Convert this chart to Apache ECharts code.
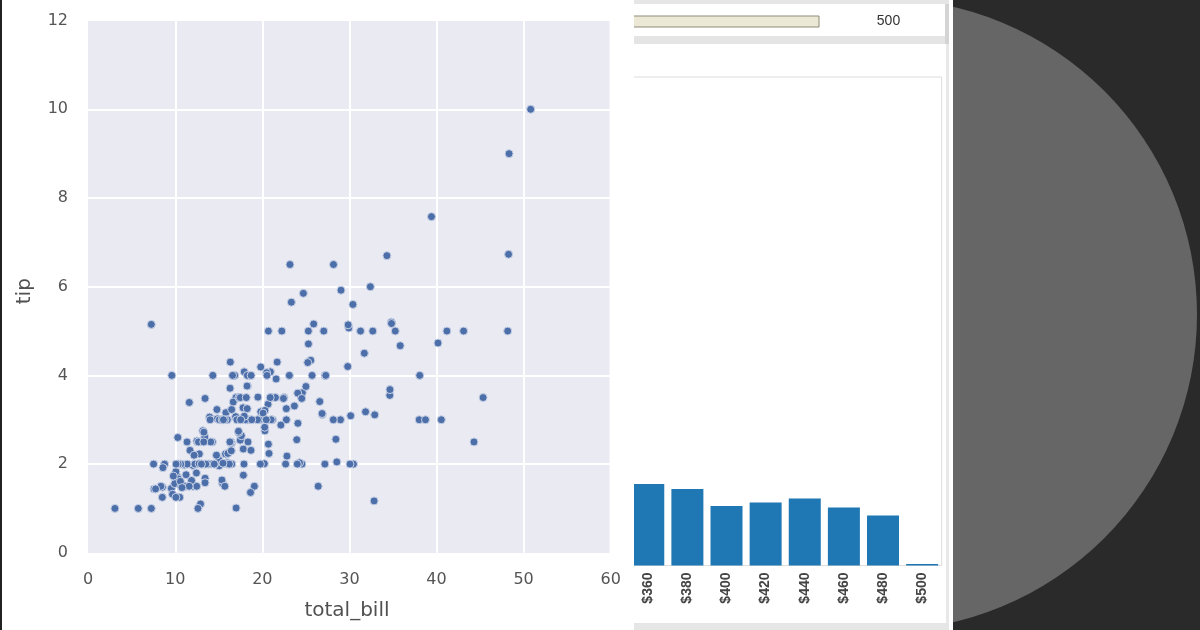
<!DOCTYPE html>
<html lang="en">

<head>
    <meta charset="UTF-8">
    <title>Tips scatter and price histogram</title>
    <script src="https://cdn.jsdelivr.net/npm/echarts@6/dist/echarts.min.js"></script>
    <style>
        html, body { margin: 0; padding: 0; background: #fff; }
    </style>
</head>

<body>
    <div id="main" style="width: 1200px;height:630px;"></div>
    <script>
        var totalBill = [16.99, 10.34, 21.01, 23.68, 24.59, 25.29, 8.77, 26.88, 15.04, 14.78, 10.27, 35.26, 15.42, 18.43, 14.83, 21.58, 10.33, 16.29, 16.97, 20.65,
            17.92, 20.29, 15.77, 39.42, 19.82, 17.81, 13.37, 12.69, 21.7, 19.65, 9.55, 18.35, 15.06, 20.69, 17.78, 24.06, 16.31, 16.93, 18.69, 31.27,
            16.04, 17.46, 13.94, 9.68, 30.4, 18.29, 22.23, 32.4, 28.55, 18.04, 12.54, 10.29, 34.81, 9.94, 25.56, 19.49, 38.01, 26.41, 11.24, 48.27,
            20.29, 13.81, 11.02, 18.29, 17.59, 20.08, 16.45, 3.07, 20.23, 15.01, 12.02, 17.07, 26.86, 25.28, 14.73, 10.51, 17.92, 27.2, 22.76, 17.29,
            19.44, 16.66, 10.07, 32.68, 15.98, 34.83, 13.03, 18.28, 24.71, 21.16, 28.97, 22.49, 5.75, 16.32, 22.75, 40.17, 27.28, 12.03, 21.01, 12.46,
            11.35, 15.38, 44.3, 22.42, 20.92, 15.36, 20.49, 25.21, 18.24, 14.31, 14, 7.25, 38.07, 23.95, 25.71, 17.31, 29.93, 10.65, 12.43, 24.08,
            11.69, 13.42, 14.26, 15.95, 12.48, 29.8, 8.52, 14.52, 11.38, 22.82, 19.08, 20.27, 11.17, 12.26, 18.26, 8.51, 10.33, 14.15, 16, 13.16,
            17.47, 34.3, 41.19, 27.05, 16.43, 8.35, 18.64, 11.87, 9.78, 7.51, 14.07, 13.13, 17.26, 24.55, 19.77, 29.85, 48.17, 25, 13.39, 16.49,
            21.5, 12.66, 16.21, 13.81, 17.51, 24.52, 20.76, 31.71, 10.59, 10.63, 50.81, 15.81, 7.25, 31.85, 16.82, 32.9, 17.89, 14.48, 9.6, 34.63,
            34.65, 23.33, 45.35, 23.17, 40.55, 20.69, 20.9, 30.46, 18.15, 23.1, 15.69, 19.81, 28.44, 15.48, 16.58, 7.56, 10.34, 43.11, 13, 13.51,
            18.71, 12.74, 13, 16.4, 20.53, 16.47, 26.59, 38.73, 24.27, 12.76, 30.06, 25.89, 48.33, 13.27, 28.17, 12.9, 28.15, 11.59, 7.74, 30.14,
            12.16, 13.42, 8.58, 15.98, 13.42, 16.27, 10.09, 20.45, 13.28, 22.12, 24.01, 15.69, 11.61, 10.77, 15.53, 10.07, 12.6, 32.83, 35.83, 29.03,
            27.18, 22.67, 17.82, 18.78];
        var tip = [1.01, 1.66, 3.5, 3.31, 3.61, 4.71, 2, 3.12, 1.96, 3.23, 1.71, 5, 1.57, 3, 3.02, 3.92, 1.67, 3.71, 3.5, 3.35,
            4.08, 2.75, 2.23, 7.58, 3.18, 2.34, 2, 2, 4.3, 3, 1.45, 2.5, 3, 2.45, 3.27, 3.6, 2, 3.07, 2.31, 5,
            2.24, 2.54, 3.06, 1.32, 5.6, 3, 5, 6, 2.05, 3, 2.5, 2.6, 5.2, 1.56, 4.34, 3.51, 3, 1.5, 1.76, 6.73,
            3.21, 2, 1.98, 3.76, 2.64, 3.15, 2.47, 1, 2.01, 2.09, 1.97, 3, 3.14, 5, 2.2, 1.25, 3.08, 4, 3, 2.71,
            3, 3.4, 1.83, 5, 2.03, 5.17, 2, 4, 5.85, 3, 3, 3.5, 1, 4.3, 3.25, 4.73, 4, 1.5, 3, 1.5,
            2.5, 3, 2.5, 3.48, 4.08, 1.64, 4.06, 4.29, 3.76, 4, 3, 1, 4, 2.55, 4, 3.5, 5.07, 1.5, 1.8, 2.92,
            2.31, 1.68, 2.5, 2, 2.52, 4.2, 1.48, 2, 2, 2.18, 1.5, 2.83, 1.5, 2, 3.25, 1.25, 2, 2, 2, 2.75,
            3.5, 6.7, 5, 5, 2.3, 1.5, 1.36, 1.63, 1.73, 2, 2.5, 2, 2.74, 2, 2, 5.14, 5, 3.75, 2.61, 2,
            3.5, 2.5, 2, 2, 3, 3.48, 2.24, 4.5, 1.61, 2, 10, 3.16, 5.15, 3.18, 4, 3.11, 2, 2, 4, 3.55,
            3.68, 5.65, 3.5, 6.5, 3, 5, 3.5, 2, 3.5, 4, 1.5, 4.19, 2.56, 2.02, 4, 1.44, 2, 5, 2, 2,
            4, 2.01, 2, 2.5, 4, 3.23, 3.41, 3, 2.03, 2.23, 2, 5.16, 9, 2.5, 6.5, 1.1, 3, 1.5, 1.44, 3.09,
            2.2, 3.48, 1.92, 3, 1.58, 2.5, 2, 3, 2.72, 2.88, 2, 3, 3.39, 1.47, 3, 1.25, 1, 1.17, 4.67, 5.92,
            2, 2, 1.75, 3];
        var priceBins = ['$360', '$380', '$400', '$420', '$440', '$460', '$480', '$500'];
        var binCounts = [163, 153, 119, 126, 134, 116, 100, 3];

        var points = [];
        for (var i = 0; i < totalBill.length; i++) {
            points.push([totalBill[i], tip[i]]);
        }

        var myChart = echarts.init(document.getElementById('main'));
        var tickFont = 'DejaVu Sans';

        // panels behind and around the two plots
        function box(x, y, w, h, fill, z) {
            return { type: 'rect', silent: true, z: z, shape: { x: x, y: y, width: w, height: h }, style: { fill: fill } };
        }

        var option = {
            animation: false,
            backgroundColor: '#fff',
            graphic: [
                box(953, 0, 247, 630, '#2a2a2a', 0),
                { type: 'circle', silent: true, z: 0.5, shape: { cx: 881, cy: 314.5, r: 316 }, style: { fill: '#666' } },
                box(634, 0, 319, 630, '#fff', 1),
                box(634, 0, 315, 4, '#e6e6e6', 1),
                box(634, 36, 315, 8, '#e4e4e4', 1),
                box(634, 4, 311, 32, '#fff', 1.1),
                box(945, 4, 4, 40, '#d4d4d4', 1.1),
                box(946, 44, 3, 586, '#e8e8e8', 1),
                box(634, 623, 315, 7, '#e6e6e6', 1),
                { type: 'rect', silent: true, z: 1.2, shape: { x: 630, y: 16, width: 189, height: 11 }, style: { fill: '#ece8d6', stroke: '#8f8b78', lineWidth: 1 } },
                { type: 'text', silent: true, z: 1.2, x: 888.5, y: 21.5, style: { text: '500', fill: '#333', font: '14px "Liberation Sans"', textAlign: 'center', textVerticalAlign: 'middle' } },
                // covers the part of the first bar that runs under the scatter panel
                box(0, 0, 634, 630, '#fff', 3),
                box(88, 21, 521.5, 532, '#eaeaf2', 3.5),
                box(0, 0, 2, 630, '#222', 9)
            ],
            grid: [
                { left: 88.2, right: 589.3, top: 20.6, bottom: 77.2 },
                { left: 628.7, right: 258.3, top: 77, bottom: 64.5, show: true, z: 2, borderColor: '#ddd', backgroundColor: 'transparent' }
            ],
            xAxis: [
                {
                    gridIndex: 0,
                    type: 'value',
                    z: 4,
                    min: 0,
                    max: 60,
                    interval: 10,
                    name: 'total_bill',
                    nameLocation: 'middle',
                    nameGap: 48,
                    nameTextStyle: { color: '#505050', fontFamily: tickFont, fontSize: 20, padding: [0, 5, 0, 0] },
                    axisLine: { show: false },
                    axisTick: { show: false },
                    axisLabel: { color: '#555', fontFamily: tickFont, fontSize: 16, margin: 19 },
                    splitLine: { showMinLine: false, showMaxLine: false, lineStyle: { color: '#fff', width: 2 } }
                },
                {
                    gridIndex: 1,
                    type: 'category',
                    z: 2,
                    data: priceBins,
                    axisLine: { lineStyle: { color: '#ddd' } },
                    axisTick: { lineStyle: { color: '#ccc' }, length: 4 },
                    axisLabel: { color: '#444', fontFamily: 'Liberation Sans', fontWeight: 'bold', fontSize: 14, rotate: 90, margin: 7, interval: 0 }
                }
            ],
            yAxis: [
                {
                    gridIndex: 0,
                    type: 'value',
                    z: 4,
                    min: 0,
                    max: 12,
                    interval: 2,
                    name: 'tip',
                    nameLocation: 'middle',
                    nameGap: 53,
                    nameTextStyle: { color: '#505050', fontFamily: tickFont, fontSize: 20, padding: [0, 9, 0, 0] },
                    axisLine: { show: false },
                    axisTick: { show: false },
                    axisLabel: { color: '#555', fontFamily: tickFont, fontSize: 16, margin: 20.2 },
                    splitLine: { showMinLine: false, showMaxLine: false, lineStyle: { color: '#fff', width: 2 } }
                },
                {
                    gridIndex: 1,
                    type: 'value',
                    show: false,
                    min: 0,
                    max: 977
                }
            ],
            series: [
                {
                    type: 'bar',
                    xAxisIndex: 1,
                    yAxisIndex: 1,
                    z: 2,
                    barWidth: 32,
                    itemStyle: { color: '#1f77b4' },
                    data: binCounts
                },
                {
                    type: 'scatter',
                    xAxisIndex: 0,
                    yAxisIndex: 0,
                    z: 5,
                    symbolSize: 8,
                    itemStyle: { color: '#4c6faa', borderColor: '#c9d2e6', borderWidth: 1, opacity: 1 },
                    data: points
                }
            ]
        };
        myChart.setOption(option);
    </script>
</body>

</html>
